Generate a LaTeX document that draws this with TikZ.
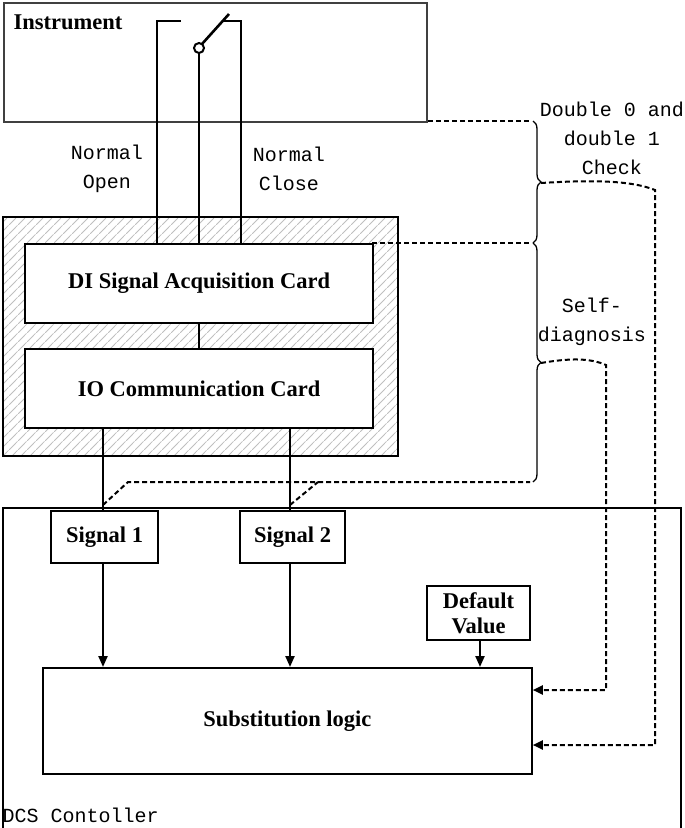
\documentclass[tikz,border=0pt]{standalone}
\usepackage{fontspec}
\setmainfont{Liberation Serif}
\setmonofont{Liberation Mono}
\usetikzlibrary{patterns,decorations.pathreplacing,arrows.meta}
\pgfdeclarepatternformonly{widehatch}{\pgfpointorigin}{\pgfpoint{9pt}{9pt}}{\pgfpoint{9pt}{9pt}}{%
  \pgfsetlinewidth{0.8pt}\pgfpathmoveto{\pgfpoint{-0.5pt}{-0.5pt}}\pgfpathlineto{\pgfpoint{9.5pt}{9.5pt}}\pgfusepath{stroke}}
\begin{document}
\begin{tikzpicture}[x=1pt,y=-1pt,
  box/.style={draw,line width=2.2pt,inner sep=0pt},
  btxt/.style={font=\fontsize{22.5}{25}\selectfont\bfseries},
  mtxt/.style={font=\fontsize{20}{29}\ttfamily,align=center},
  wire/.style={line width=2.6pt},
  dsh/.style={line width=2pt,dash pattern=on 5pt off 3pt},
  arr/.style={line width=2.2pt,-{Triangle[length=11pt,width=9pt]}},
  brc/.style={decorate,decoration={brace,amplitude=8pt},line width=1.3pt}]
\useasboundingbox (0,0) rectangle (685,828);
% instrument
\node[box,draw=black!75,minimum width=423pt,minimum height=119pt,anchor=north west] (inst) at (3,2) {};
\node[btxt,anchor=west] (instl) at (10,22) {Instrument};
% hatched frame
\node[box,pattern=widehatch,pattern color=black!25,minimum width=395pt,minimum height=239pt,anchor=north west] (frame) at (2,216) {};
\node[box,fill=white,minimum width=348pt,minimum height=79pt,anchor=north west] (di) at (24,243) {};
\node[btxt] at (di.center) {DI Signal Acquisition Card};
\node[box,fill=white,minimum width=348pt,minimum height=79pt,anchor=north west] (io) at (24,348) {};
\node[btxt] at (io.center) {IO Communication Card};
\draw[wire] (di.south -| 199,0) -- (io.north -| 199,0);
% switch
\coordinate (c) at (199,48);
\draw[wire] (157,243) -- (157,21) -- (181,21);
\draw[wire] (241,243) -- (241,21) -- (224,21);
\draw[wire] (199,243) -- (199,53);
\draw[line width=2pt] (c) circle (5pt);
\draw[wire] (202,44) -- (229,14);
\node[mtxt] (no) at (107,169) {Normal\\Open};
\node[mtxt] (nc) at (289,169) {Normal\\Close};
% DCS
\node[box,line width=1.6pt,minimum width=678pt,minimum height=322pt,anchor=north west] (dcs) at (2,507) {};
\node[mtxt,anchor=south west] (dcsl) at (-1,826) {DCS Contoller};
\node[box,fill=white,minimum width=107pt,minimum height=52pt,anchor=north west] (s1) at (50,510) {};
\node[btxt] at (s1.center) {Signal 1};
\node[box,fill=white,minimum width=105pt,minimum height=52pt,anchor=north west] (s2) at (239,510) {};
\node[btxt] at (s2.center) {Signal 2};
\node[box,minimum width=103pt,minimum height=54pt,anchor=north west,align=center,btxt] (dv) at (426,585) {Default\\Value};
\node[box,line width=1.8pt,minimum width=489pt,minimum height=106pt,anchor=north west] (sub) at (42,667) {};
\node[btxt] at (sub.center) {Substitution logic};
\draw[wire] (io.south -| 103,0) -- (s1.north -| 103,0);
\draw[wire] (io.south -| 290,0) -- (s2.north -| 290,0);
\draw[arr] (s1.south -| 103,0) -- (sub.north -| 103,0);
\draw[arr] (s2.south -| 290,0) -- (sub.north -| 290,0);
\draw[arr] (dv.south -| 480,0) -- (sub.north -| 480,0);
% braces
\draw[brc] (533,121) -- (533,243);
\draw[brc] (533,243) -- (533,482);
\node[mtxt] (dd) at (612,138) {Double 0 and\\double 1\\Check};
\node[mtxt] (sd) at (592,322) {Self-\\diagnosis};
% dashed
\draw[dsh] (inst.east |- 0,121) -- (530,121);
\draw[dsh] (372,243) -- (530,243);
\draw[dsh] (103,505) -- (128,482) -- (530,482);
\draw[dsh] (290,505) -- (318,482);
\draw[dsh,-{Triangle[length=10pt,width=9pt]}] (541,183) .. controls (590,180) and (630,180) .. (655,190) -- (655,745) -- (sub.east |- 0,745);
\draw[dsh,-{Triangle[length=10pt,width=9pt]}] (541,363) .. controls (570,358) and (590,358) .. (606,365) -- (606,690) -- (sub.east |- 0,690);
\end{tikzpicture}
\end{document}
